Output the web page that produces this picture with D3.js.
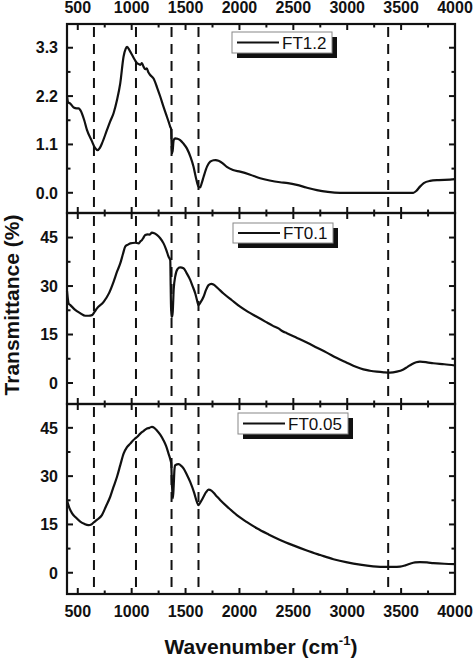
<!DOCTYPE html>
<html lang="en">
<head>
  <meta charset="UTF-8">
  <title>FTIR spectra</title>
  <script src="https://cdnjs.cloudflare.com/ajax/libs/d3/7.8.5/d3.min.js"></script>
  <style>
    * { margin: 0; padding: 0; box-sizing: border-box; }
    body { background: #ffffff; width: 474px; height: 660px; overflow: hidden; }
    svg { display: block; font-family: "Liberation Sans", Arial, sans-serif; }
    .tick-label { font-size: 16px; font-weight: bold; fill: #111; }
    .legend-text { font-size: 17px; fill: #111; }
    .axis-title { font-size: 21px; font-weight: bold; fill: #111; }
  </style>
</head>
<body>
<div id="chart"></div>

<script>
  // Spectra: [wavenumber, transmittance]
  const ft12 = [[400,2.2],[410,2.06],[430,2.03],[462,1.94],[490,1.92],[508,1.92],[524,1.88],[560,1.65],[585,1.43],[630,1.18],[660,1.02],[684,0.97],[705,1.02],[724,1.12],[771,1.43],[800,1.62],[832,1.81],[865,2.12],[894,2.49],[925,3.10],[945,3.28],[958,3.32],[980,3.24],[1003,3.14],[1030,3.02],[1049,2.95],[1065,2.93],[1080,2.91],[1095,2.95],[1110,2.87],[1126,2.81],[1140,2.83],[1155,2.74],[1172,2.68],[1203,2.60],[1235,2.40],[1265,2.19],[1295,1.96],[1327,1.73],[1345,1.6],[1358,1.50],[1366,1.45],[1373,0.90],[1380,0.95],[1390,1.2],[1404,1.24],[1425,1.23],[1450,1.20],[1480,1.12],[1512,1.01],[1545,0.82],[1574,0.59],[1600,0.30],[1620,0.14],[1635,0.12],[1650,0.22],[1667,0.36],[1700,0.60],[1729,0.71],[1760,0.74],[1780,0.745],[1806,0.73],[1850,0.66],[1883,0.59],[1940,0.52],[2006,0.48],[2100,0.41],[2192,0.33],[2280,0.28],[2377,0.24],[2450,0.22],[2532,0.18],[2620,0.12],[2718,0.06],[2820,0.02],[2934,0.0],[3200,0.0],[3500,0.0],[3613,0.0],[3640,0.04],[3675,0.14],[3710,0.22],[3768,0.27],[3850,0.29],[3954,0.30],[4000,0.31]];

  const ft01 = [[400,28.5],[408,26],[415,24.6],[431,24.1],[470,22.8],[523,21.6],[570,20.8],[600,20.8],[632,21.0],[655,22.0],[678,23.1],[740,25.1],[790,27.8],[832,31.3],[865,34.5],[894,37.0],[920,40.0],[940,42.2],[965,42.8],[987,43.2],[1033,43.4],[1064,43.2],[1080,43.8],[1095,44.2],[1110,45.0],[1126,45.8],[1150,46.0],[1165,45.9],[1188,46.5],[1210,46.3],[1234,45.8],[1265,44.8],[1296,43.2],[1320,41.3],[1342,39.1],[1358,38.0],[1362,30],[1367,20.5],[1375,20.5],[1381,22],[1390,29],[1404,32.9],[1425,35.2],[1450,35.8],[1481,35.5],[1510,34.0],[1543,31.9],[1565,30.0],[1590,27.7],[1605,25.8],[1620,24.1],[1640,25.0],[1667,26.7],[1690,28.8],[1713,30.3],[1740,30.7],[1759,30.5],[1800,29.3],[1852,27.7],[1930,25.6],[2006,23.6],[2080,22.0],[2161,20.5],[2240,19.0],[2315,17.6],[2362,16.9],[2400,16.0],[2440,15.4],[2530,14.0],[2625,12.5],[2720,10.9],[2810,9.4],[2900,7.8],[2996,6.3],[3080,5.0],[3150,4.2],[3210,3.8],[3274,3.5],[3340,3.3],[3397,3.2],[3460,3.5],[3521,4.2],[3560,5.0],[3599,5.8],[3640,6.4],[3675,6.6],[3740,6.4],[3799,6.1],[3900,5.8],[4000,5.4]];

  const ft005 = [[400,22.4],[420,20.3],[446,18.5],[480,17.2],[523,15.9],[560,15.2],[600,14.8],[625,15.0],[647,15.6],[680,16.5],[724,17.9],[760,20.5],[801,23.6],[830,26.5],[864,29.8],[895,33.5],[925,37.0],[955,38.9],[987,40.1],[1010,41.0],[1033,41.7],[1055,42.3],[1080,43.2],[1110,44.0],[1142,44.8],[1165,45.0],[1188,45.3],[1210,45.0],[1234,44.2],[1265,42.9],[1296,41.1],[1320,39.3],[1342,37.0],[1360,35.0],[1367,33.9],[1374,27],[1383,23.1],[1390,27],[1397,32],[1404,33.4],[1435,33.7],[1460,33.2],[1481,32.4],[1510,30.6],[1543,28.2],[1580,24.8],[1605,22.0],[1620,21.0],[1640,22.0],[1667,23.6],[1690,25.0],[1713,25.8],[1740,25.5],[1780,24.1],[1821,22.6],[1900,20.1],[1976,17.9],[2070,15.7],[2161,13.8],[2270,11.9],[2377,10.2],[2500,8.5],[2625,6.9],[2750,5.5],[2872,4.2],[3000,3.2],[3119,2.5],[3240,2.0],[3366,1.8],[3430,1.8],[3490,1.9],[3540,2.3],[3583,2.8],[3630,3.2],[3675,3.3],[3740,3.2],[3799,3.0],[3900,2.8],[4000,2.7]];

  const seriesNames = ["FT1.2", "FT0.1", "FT0.05"];
  const xTicks = [500, 1000, 1500, 2000, 2500, 3000, 3500, 4000];
  const xMinorTicks = [750, 1250, 1750, 2250, 2750, 3250, 3750];
  const y1Ticks = [0, 1.1, 2.2, 3.3];
  const y1Minor = [0.55, 1.65, 2.75];
  const y2Ticks = [0, 15, 30, 45];
  const y2Minor = [7.5, 22.5, 37.5];
  const markerLines = [650, 1040, 1370, 1620, 3380];

  const W = 474, H = 660;
  const left = 67, right = 455;

  const svg = d3.select("#chart").append("svg")
    .attr("width", W).attr("height", H);
  svg.append("rect").attr("width", W).attr("height", H).attr("fill", "#fff");

  const x = d3.scaleLinear().domain([400, 4000]).range([left, right]);

  const panels = [
    { data: ft12, name: seriesNames[0], top: 24, bottom: 213, domain: [-0.46, 3.84],
      ticks: y1Ticks, minor: y1Minor, fmt: d3.format(".1f"), legend: [232, 32, 100, 21] },
    { data: ft01, name: seriesNames[1], top: 213, bottom: 404, domain: [-6.5, 52.6],
      ticks: y2Ticks, minor: y2Minor, fmt: d3.format("d"), legend: [233, 223, 100, 20] },
    { data: ft005, name: seriesNames[2], top: 404, bottom: 594, domain: [-6.6, 52.4],
      ticks: y2Ticks, minor: y2Minor, fmt: d3.format("d"), legend: [238, 413, 110, 21] }
  ];

  const majorLen = 6, minorLen = 3.5;

  panels.forEach((p, i) => {
    const y = d3.scaleLinear().domain(p.domain).range([p.bottom, p.top]);
    const g = svg.append("g");

    // dashed marker lines
    g.selectAll(".marker").data(markerLines).enter().append("line")
      .attr("x1", d => x(d)).attr("x2", d => x(d))
      .attr("y1", p.top + 3).attr("y2", p.bottom)
      .attr("stroke", "#111").attr("stroke-width", 2)
      .attr("stroke-dasharray", "10,7");

    // spectrum
    const line = d3.line()
      .x(d => x(d[0])).y(d => y(d[1]))
      .curve(d3.curveMonotoneX);
    g.append("path").datum(p.data)
      .attr("d", line)
      .attr("fill", "none").attr("stroke", "#111")
      .attr("stroke-width", 2.2).attr("stroke-linejoin", "round");

    // ticks (pointing inward on all four sides)
    const xt = xTicks.filter(t => t < 4000);
    const tickSets = [
      { vals: xt, len: majorLen }, { vals: xMinorTicks, len: minorLen }
    ];
    tickSets.forEach(ts => {
      g.selectAll(null).data(ts.vals).enter().append("line")
        .attr("x1", d => x(d)).attr("x2", d => x(d))
        .attr("y1", p.top).attr("y2", p.top + ts.len)
        .attr("stroke", "#111").attr("stroke-width", 2);
      g.selectAll(null).data(ts.vals).enter().append("line")
        .attr("x1", d => x(d)).attr("x2", d => x(d))
        .attr("y1", p.bottom).attr("y2", p.bottom - ts.len)
        .attr("stroke", "#111").attr("stroke-width", 2);
    });
    [{ vals: p.ticks, len: majorLen }, { vals: p.minor, len: minorLen }].forEach(ts => {
      g.selectAll(null).data(ts.vals).enter().append("line")
        .attr("x1", left).attr("x2", left + ts.len)
        .attr("y1", d => y(d)).attr("y2", d => y(d))
        .attr("stroke", "#111").attr("stroke-width", 2);
      g.selectAll(null).data(ts.vals).enter().append("line")
        .attr("x1", right).attr("x2", right - ts.len)
        .attr("y1", d => y(d)).attr("y2", d => y(d))
        .attr("stroke", "#111").attr("stroke-width", 2);
    });

    // y tick labels
    g.selectAll(null).data(p.ticks).enter().append("text")
      .attr("class", "tick-label")
      .attr("x", left - 9).attr("y", d => y(d))
      .attr("dy", "0.36em").attr("text-anchor", "end")
      .text(d => p.fmt(d));

    // frame
    g.append("rect")
      .attr("x", left).attr("y", p.top)
      .attr("width", right - left).attr("height", p.bottom - p.top)
      .attr("fill", "none").attr("stroke", "#111").attr("stroke-width", 2.2);

    // legend
    const [lx, ly, lw, lh] = p.legend;
    const lg = svg.append("g");
    lg.append("rect").attr("x", lx + 5).attr("y", ly + 5)
      .attr("width", lw).attr("height", lh).attr("fill", "#111");
    lg.append("rect").attr("x", lx).attr("y", ly)
      .attr("width", lw).attr("height", lh)
      .attr("fill", "#fff").attr("stroke", "#888").attr("stroke-width", 1);
    lg.append("line")
      .attr("x1", lx + 5).attr("x2", lx + 47)
      .attr("y1", ly + lh / 2).attr("y2", ly + lh / 2)
      .attr("stroke", "#111").attr("stroke-width", 2.2);
    lg.append("text").attr("class", "legend-text")
      .attr("x", lx + 50).attr("y", ly + lh / 2)
      .attr("dy", "0.36em")
      .text(p.name);
  });

  // x tick labels on top and bottom
  svg.selectAll(".xtop").data(xTicks).enter().append("text")
    .attr("class", "tick-label")
    .attr("x", d => x(d)).attr("y", 13)
    .attr("text-anchor", "middle").text(d => d);
  svg.selectAll(".xbot").data(xTicks).enter().append("text")
    .attr("class", "tick-label")
    .attr("x", d => x(d)).attr("y", 617)
    .attr("text-anchor", "middle").text(d => d);

  // axis titles
  const xt = svg.append("text").attr("class", "axis-title")
    .attr("x", 261).attr("y", 654).attr("text-anchor", "middle");
  xt.append("tspan").text("Wavenumber (cm");
  xt.append("tspan").attr("dy", -9).attr("font-size", 13).text("-1");
  xt.append("tspan").attr("dy", 9).text(")");

  svg.append("text").attr("class", "axis-title")
    .attr("transform", "translate(19,305) rotate(-90)")
    .attr("text-anchor", "middle")
    .text("Transmittance (%)");
</script>
</body>
</html>
